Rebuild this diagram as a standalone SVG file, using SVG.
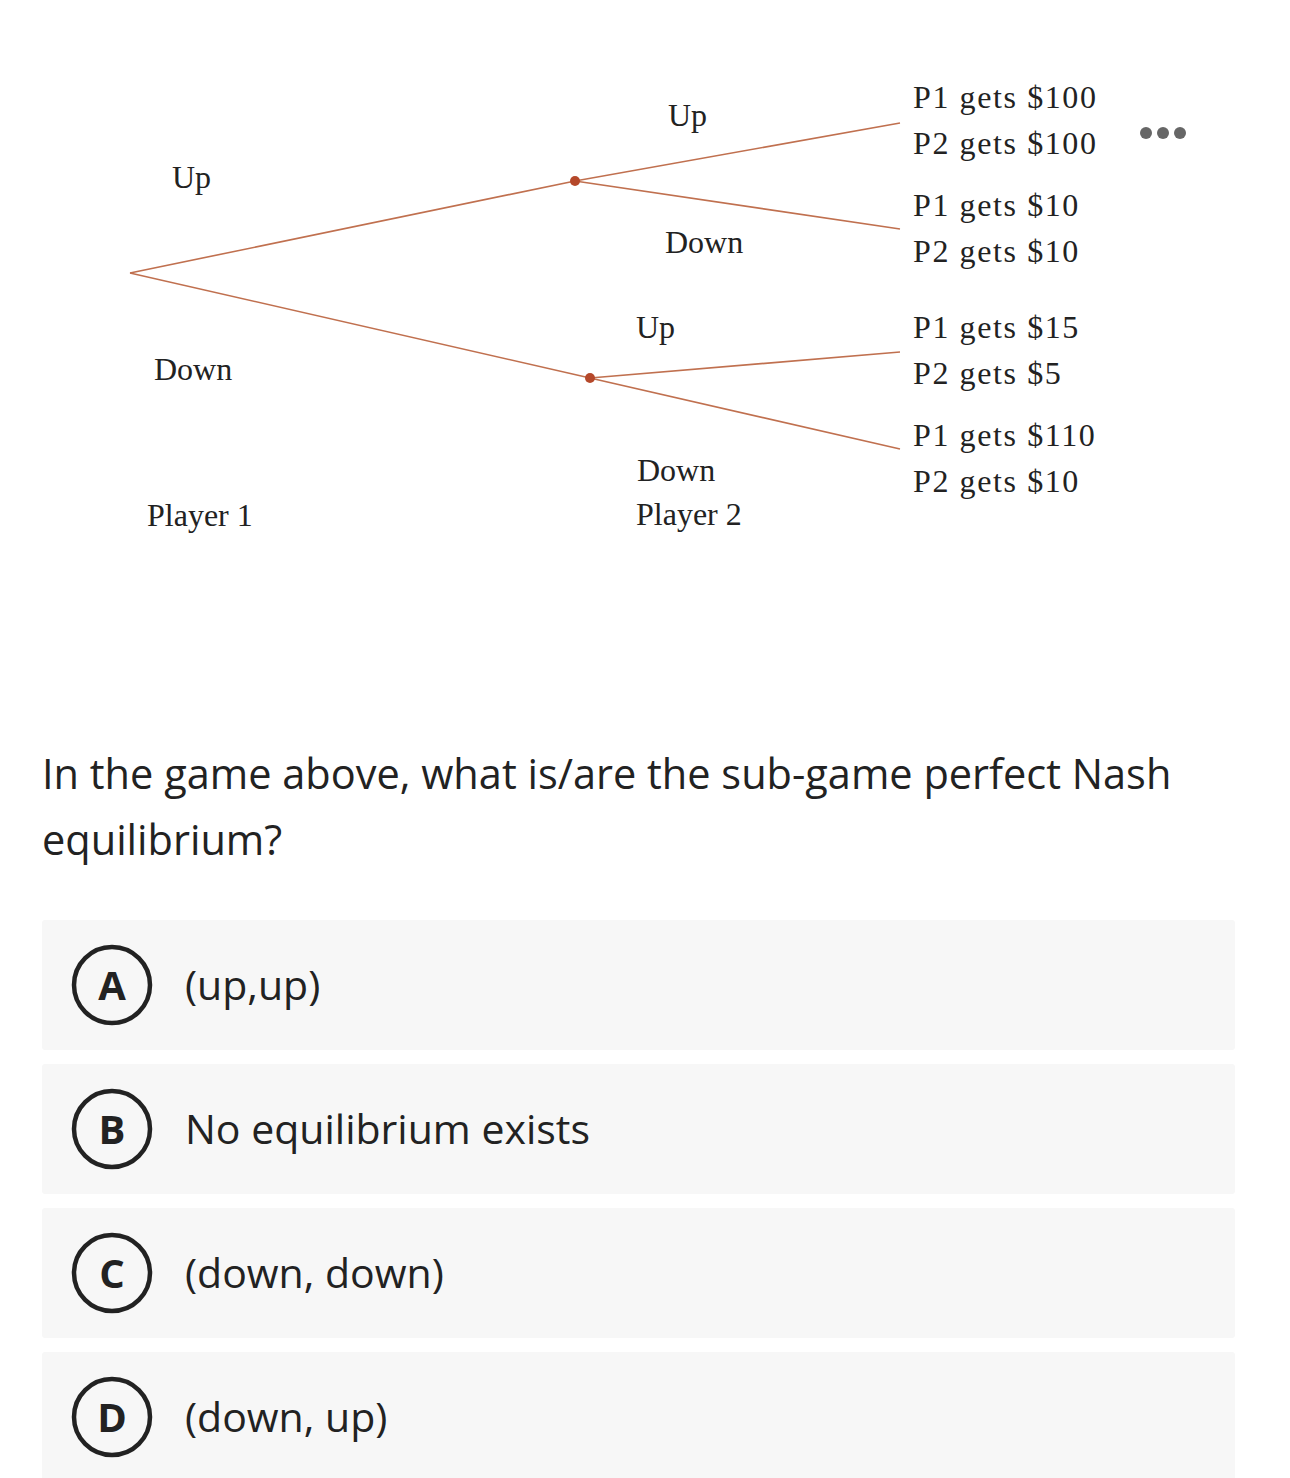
<svg xmlns="http://www.w3.org/2000/svg" width="1290" height="1478" viewBox="0 0 1290 1478">
<style>
.t{font-family:"Liberation Serif",serif;font-size:32px;fill:#222}
.p{letter-spacing:1.6px}
.q{font-family:"Open Sans","Noto Sans",sans-serif;font-size:41.5px;fill:#222}
.o{font-family:"Open Sans","Noto Sans",sans-serif;font-size:41px;fill:#222}
.e{stroke:#c0704f;stroke-width:1.6;fill:none}
.box{fill:#f7f7f7}
.c{fill:none;stroke:#222;stroke-width:4.5}
.l{font-family:"Open Sans","Noto Sans",sans-serif;font-size:40px;font-weight:bold;fill:#222;text-anchor:middle}
</style>
<rect width="1290" height="1478" fill="#fff"/>
<g id="connectors">
<line class="e" x1="130" y1="273" x2="575" y2="181"/>
<line class="e" x1="130" y1="273" x2="590" y2="378"/>
<line class="e" x1="575" y1="181" x2="900" y2="123"/>
<line class="e" x1="575" y1="181" x2="900" y2="229"/>
<line class="e" x1="590" y1="378" x2="900" y2="352"/>
<line class="e" x1="590" y1="378" x2="900" y2="449"/>
</g>
<g id="node-p2-up"><circle cx="575" cy="181" r="5" fill="#b5482a"/></g>
<g id="node-p2-down"><circle cx="590" cy="378" r="5" fill="#b5482a"/></g>
<g id="labels">
<text class="t" x="172" y="188">Up</text>
<text class="t" x="154" y="380">Down</text>
<text class="t" x="147" y="526">Player 1</text>
<text class="t" x="668" y="126">Up</text>
<text class="t" x="665" y="253">Down</text>
<text class="t" x="636" y="338">Up</text>
<text class="t" x="637" y="481">Down</text>
<text class="t" x="636" y="525">Player 2</text>
</g>
<g id="payoffs">
<text class="t p" x="913" y="108">P1 gets $100</text>
<text class="t p" x="913" y="154">P2 gets $100</text>
<text class="t p" x="913" y="216">P1 gets $10</text>
<text class="t p" x="913" y="262">P2 gets $10</text>
<text class="t p" x="913" y="338">P1 gets $15</text>
<text class="t p" x="913" y="384">P2 gets $5</text>
<text class="t p" x="913" y="446">P1 gets $110</text>
<text class="t p" x="913" y="492">P2 gets $10</text>
</g>
<g id="more" fill="#666"><circle cx="1146" cy="133" r="6"/><circle cx="1163" cy="133" r="6"/><circle cx="1180" cy="133" r="6"/></g>
<g id="question">
<text class="q" x="42" y="789">In the game above, what is/are the sub-game perfect Nash</text>
<text class="q" x="42" y="855">equilibrium?</text>
</g>
<g id="option-a"><rect class="box" x="42" y="920" width="1193" height="130" rx="3"/><circle class="c" cx="112" cy="985" r="38"/><text class="l" x="112" y="1000">A</text><text class="o" x="185" y="1000">(up,up)</text></g>
<g id="option-b"><rect class="box" x="42" y="1064" width="1193" height="130" rx="3"/><circle class="c" cx="112" cy="1129" r="38"/><text class="l" x="112" y="1144">B</text><text class="o" x="185" y="1144">No equilibrium exists</text></g>
<g id="option-c"><rect class="box" x="42" y="1208" width="1193" height="130" rx="3"/><circle class="c" cx="112" cy="1273" r="38"/><text class="l" x="112" y="1288">C</text><text class="o" x="185" y="1288">(down, down)</text></g>
<g id="option-d"><rect class="box" x="42" y="1352" width="1193" height="130" rx="3"/><circle class="c" cx="112" cy="1417" r="38"/><text class="l" x="112" y="1432">D</text><text class="o" x="185" y="1432">(down, up)</text></g>
</svg>
